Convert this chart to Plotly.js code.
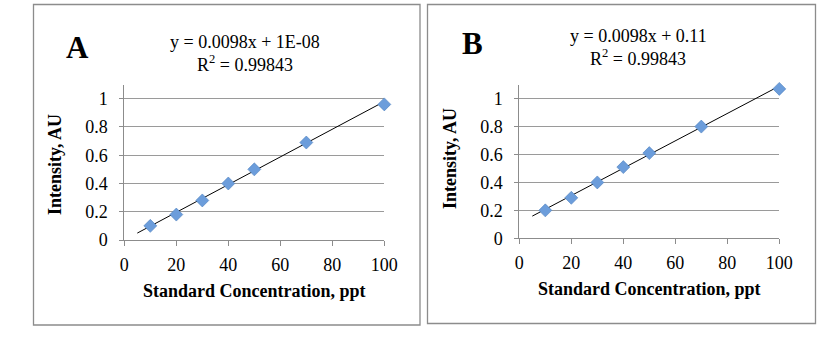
<!DOCTYPE html>
<html>
<head>
<meta charset="utf-8">
<script src="https://cdn.plot.ly/plotly-3.0.1.min.js"></script>
<style>html,body{margin:0;padding:0;background:#fff;}#chart{width:837px;height:339px;}</style>
</head>
<body>
<div id="chart"></div>
<script>
// Data
const concentration = [10, 20, 30, 40, 50, 70, 100];
const intensityA = [0.10, 0.18, 0.28, 0.40, 0.50, 0.69, 0.96];
const intensityB = [0.20, 0.29, 0.40, 0.51, 0.61, 0.80, 1.07];
const trendA = {slope: 0.0098, intercept: 1e-8};
const trendB = {slope: 0.0098, intercept: 0.11};
const trendX = [5, 100];
const panelLabels = ['A', 'B'];
const equationsA = ['y = 0.0098x + 1E-08', 'R<sup>2</sup> = 0.99843'];
const equationsB = ['y = 0.0098x + 0.11', 'R<sup>2</sup> = 0.99843'];
const xTitle = 'Standard Concentration, ppt';
const yTitle = 'Intensity, AU';
const xTicks = [0, 20, 40, 60, 80, 100];
const yTicks = [0, 0.2, 0.4, 0.6, 0.8, 1];
const yTickText = ['0', '0.2', '0.4', '0.6', '0.8', '1'];

const W = 837, H = 339;
const px = v => v / W;
const py = v => 1 - v / H;
const FONT = 'Liberation Serif, Times New Roman, serif';

const markerStyle = {symbol: 'diamond', size: 10, color: '#6C9DDB', line: {color: '#4F81BD', width: 0.6}};

function trendY(t) { return trendX.map(x => t.slope * x + t.intercept); }

const data = [
  {x: trendX, y: trendY(trendA), xaxis: 'x', yaxis: 'y', mode: 'lines', line: {color: '#000', width: 1}, hoverinfo: 'skip', cliponaxis: false},
  {x: concentration, y: intensityA, xaxis: 'x', yaxis: 'y', mode: 'markers', marker: markerStyle, cliponaxis: false},
  {x: trendX, y: trendY(trendB), xaxis: 'x2', yaxis: 'y2', mode: 'lines', line: {color: '#000', width: 1}, hoverinfo: 'skip', cliponaxis: false},
  {x: concentration, y: intensityB, xaxis: 'x2', yaxis: 'y2', mode: 'markers', marker: markerStyle, cliponaxis: false}
];

function xax(domain, anchor) {
  return {domain: domain, anchor: anchor, range: [0, 100], tickvals: xTicks, ticktext: xTicks.map(String),
    showgrid: false, zeroline: false, showline: true, linecolor: '#8c8c8c', linewidth: 1,
    ticks: 'outside', ticklen: 5, tickcolor: '#8c8c8c', tickfont: {family: FONT, size: 18, color: '#000'},
    ticklabelstandoff: 3, fixedrange: true};
}
function yax(domain, anchor) {
  return {domain: domain, anchor: anchor, range: [0, 1.1], tickvals: yTicks, ticktext: yTickText,
    showgrid: true, gridcolor: '#9a9a9a', gridwidth: 1, zeroline: false, showline: true, linecolor: '#8c8c8c', linewidth: 1,
    ticks: 'outside', ticklen: 4, tickcolor: '#8c8c8c', tickfont: {family: FONT, size: 18, color: '#000'},
    ticklabelstandoff: 8, fixedrange: true};
}

const annFont = {family: FONT, size: 18, color: '#000'};
const annotations = [
  {text: '<b>' + panelLabels[0] + '</b>', x: px(77), y: py(47), xref: 'paper', yref: 'paper', showarrow: false, font: {family: FONT, size: 31, color: '#000'}, xanchor: 'center', yanchor: 'middle'},
  {text: '<b>' + panelLabels[1] + '</b>', x: px(472), y: py(43), xref: 'paper', yref: 'paper', showarrow: false, font: {family: FONT, size: 31, color: '#000'}, xanchor: 'center', yanchor: 'middle'},
  {text: equationsA[0], x: px(245), y: py(42), xref: 'paper', yref: 'paper', showarrow: false, font: annFont, xanchor: 'center', yanchor: 'middle'},
  {text: equationsA[1], x: px(245), y: py(63), xref: 'paper', yref: 'paper', showarrow: false, font: annFont, xanchor: 'center', yanchor: 'middle'},
  {text: equationsB[0], x: px(638), y: py(36), xref: 'paper', yref: 'paper', showarrow: false, font: annFont, xanchor: 'center', yanchor: 'middle'},
  {text: equationsB[1], x: px(638), y: py(57), xref: 'paper', yref: 'paper', showarrow: false, font: annFont, xanchor: 'center', yanchor: 'middle'},
  {text: '<b>' + xTitle + '</b>', x: px(254), y: py(291), xref: 'paper', yref: 'paper', showarrow: false, font: annFont, xanchor: 'center', yanchor: 'middle'},
  {text: '<b>' + xTitle + '</b>', x: px(649), y: py(289), xref: 'paper', yref: 'paper', showarrow: false, font: annFont, xanchor: 'center', yanchor: 'middle'},
  {text: '<b>' + yTitle + '</b>', x: px(55), y: py(165), xref: 'paper', yref: 'paper', showarrow: false, font: annFont, xanchor: 'center', yanchor: 'middle', textangle: -90},
  {text: '<b>' + yTitle + '</b>', x: px(450), y: py(159), xref: 'paper', yref: 'paper', showarrow: false, font: annFont, xanchor: 'center', yanchor: 'middle', textangle: -90}
];

const shapes = [
  {type: 'rect', xref: 'paper', yref: 'paper', x0: px(33.5), x1: px(420), y0: py(325), y1: py(4.5), line: {color: '#8c8c8c', width: 1.3}},
  {type: 'rect', xref: 'paper', yref: 'paper', x0: px(427.5), x1: px(815.5), y0: py(323.5), y1: py(4.5), line: {color: '#8c8c8c', width: 1.3}}
];

const layout = {
  width: W, height: H, margin: {l: 0, r: 0, t: 0, b: 0},
  paper_bgcolor: '#fff', plot_bgcolor: 'rgba(0,0,0,0)', showlegend: false,
  xaxis: xax([px(124.3), px(384.3)], 'y'),
  yaxis: yax([py(240), py(84.6)], 'x'),
  xaxis2: xax([px(519.3), px(779.3)], 'y2'),
  yaxis2: yax([py(238.3), py(84.7)], 'x2'),
  annotations: annotations, shapes: shapes
};

Plotly.newPlot('chart', data, layout, {staticPlot: true, displayModeBar: false});
</script>
</body>
</html>
